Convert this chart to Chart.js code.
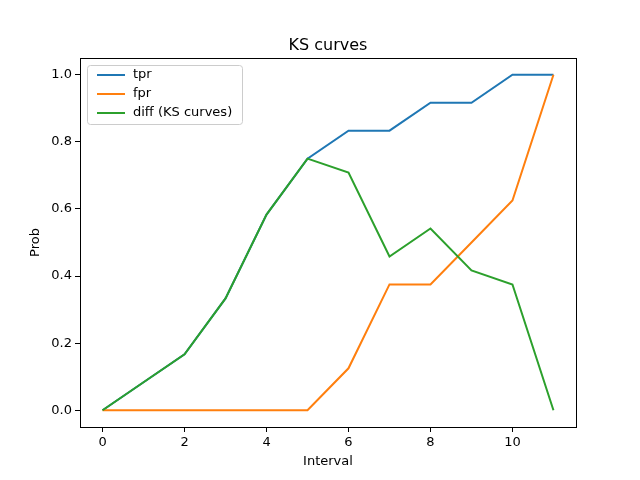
<!DOCTYPE html>
<html><head><meta charset="utf-8">
<script src="https://cdn.jsdelivr.net/npm/chart.js@4/dist/chart.umd.min.js"></script>
<style>html,body{margin:0;padding:0;background:#fff}#w{width:640px;height:480px}</style>
</head><body><div id="w"><canvas id="c" width="640" height="480"></canvas></div>
<script>
const intervals = [0,1,2,3,4,5,6,7,8,9,10,11];
const tpr = [0,0.0833,0.1667,0.3333,0.5833,0.75,0.8333,0.8333,0.9167,0.9167,1,1];
const fpr = [0,0,0,0,0,0,0.125,0.375,0.375,0.5,0.625,1];
const diff = [0,0.0833,0.1667,0.3333,0.5833,0.75,0.7083,0.4583,0.5417,0.4167,0.375,0];
const xTicks = [0,2,4,6,8,10];
const yTicks = [0,0.2,0.4,0.6,0.8,1.0];
const names = ['tpr','fpr','diff (KS curves)'];
const colors = ['#1f77b4','#ff7f0e','#2ca02c'];
const F = 'DejaVu Sans';
const series = [tpr,fpr,diff];

const deco = {
  id:'deco',
  afterDraw(ch){
    const c=ch.ctx, a=ch.chartArea;
    c.save();
    c.strokeStyle='#000';c.lineWidth=1;
    c.strokeRect(Math.round(a.left)+0.5,Math.round(a.top)+0.5,Math.round(a.right-a.left),Math.round(a.bottom-a.top));
    c.fillStyle='#000';c.font='16px '+F;c.textAlign='center';c.textBaseline='alphabetic';
    c.fillText('KS curves',(a.left+a.right)/2,50);
    c.font='13px '+F;c.textBaseline='middle';
    c.fillText('Interval',(a.left+a.right)/2,462);
    c.save();c.translate(36,(a.top+a.bottom)/2);c.rotate(-Math.PI/2);c.fillText('Prob',0,0);c.restore();
    // legend
    const lx=a.left+7, ly=a.top+7;
    c.fillStyle='rgba(255,255,255,0.8)';c.strokeStyle='#ccc';
    c.beginPath();c.roundRect(lx+0.5,ly+0.5,155,59,3);c.fill();c.stroke();
    c.textAlign='left';
    names.forEach((n,i)=>{
      const y=ly+10+i*19;
      c.strokeStyle=colors[i];c.lineWidth=2;
      c.beginPath();c.moveTo(lx+10,y);c.lineTo(lx+38,y);c.stroke();
      c.fillStyle='#000';c.fillText(n,lx+46,y);
    });
    c.restore();
  }
};

new Chart(document.getElementById('c'),{
  type:'line',
  data:{datasets:series.map((s,i)=>({label:names[i],order:2-i,data:intervals.map((x,j)=>({x,y:s[j]})),borderColor:colors[i],backgroundColor:colors[i],borderWidth:2,pointRadius:0,tension:0}))},
  options:{
    responsive:false,animation:false,
    layout:{padding:{top:58,right:64,left:0,bottom:0}},
    plugins:{legend:{display:false},title:{display:false},tooltip:{enabled:false}},
    scales:{
      x:{type:'linear',min:-0.55,max:11.55,
        afterBuildTicks:s=>{s.ticks=xTicks.map(v=>({value:v}));},
        afterFit:s=>{s.height=53;},
        grid:{drawOnChartArea:false,tickLength:5,color:'#000'},border:{display:false},
        ticks:{color:'#000',font:{family:F,size:13},padding:3,maxRotation:0,callback:v=>String(v)}},
      y:{min:-0.05,max:1.05,
        afterBuildTicks:s=>{s.ticks=yTicks.map(v=>({value:v}));},
        afterFit:s=>{s.width=80;},
        grid:{drawOnChartArea:false,tickLength:5,color:'#000'},border:{display:false},
        ticks:{color:'#000',font:{family:F,size:13},padding:3,callback:v=>v.toFixed(1)}}
    }
  },
  plugins:[deco]
});
</script></body></html>
